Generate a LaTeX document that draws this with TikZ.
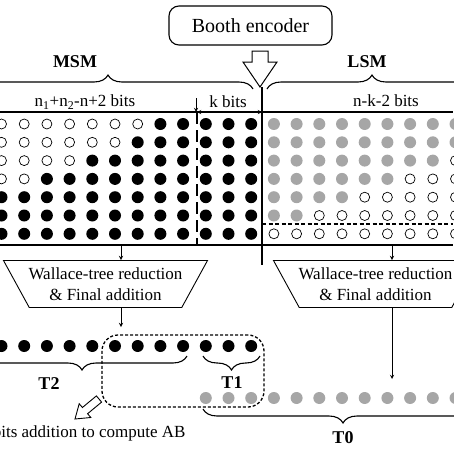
\documentclass[tikz,border=0pt]{standalone}
\usepackage{fontspec}
\setmainfont{Liberation Serif}
\usetikzlibrary{arrows,shapes,positioning,decorations.pathreplacing}
\definecolor{lsmgray}{RGB}{166,166,166}
\tikzstyle{arrow} = [line width=0.9pt,->,>=stealth]
\tikzstyle{gridline} = [line width=1.5pt]
\tikzstyle{brace} = [decorate, decoration={brace, amplitude=14pt}, line width=1.1pt]
\tikzstyle{lbl} = [font=\fontsize{17}{20}\selectfont]
\tikzstyle{wallace} = [draw, line width=0.9pt, trapezium, shape border rotate=180,
  trapezium angle=57, trapezium stretches body, minimum width=204pt,
  minimum height=47pt, inner xsep=-8pt, align=center, font=\fontsize{17}{21}\selectfont]

\begin{document}
\begin{tikzpicture}[x=1pt, y=-1pt]
\useasboundingbox (0,0) rectangle (453,453);

% Booth encoder
\node[draw, line width=1.1pt, rounded corners=10pt, minimum width=163pt, minimum height=39pt,
  font=\fontsize{20}{24}\selectfont] (booth) at (250.5,25.5) {Booth encoder};
\draw[line width=1pt] (252,51) -- (268,51) -- (268,62) -- (277,62) -- (260,87)
  -- (243,62) -- (252,62) -- cycle;

% Braces on top
\draw[brace] (-37,89) -- (253,89);
\draw[brace] (267,89) -- (477,89);
\node[font=\bfseries\fontsize{18}{22}\selectfont] (msm) at (75,62) {MSM};
\node[font=\bfseries\fontsize{18}{22}\selectfont] (lsm) at (367,62) {LSM};

% Widths
\node[lbl] (wmsm) at (85,102) {n\textsubscript{1}+n\textsubscript{2}-n+2 bits};
\node[lbl] (wk) at (228,102) {k bits};
\node[lbl] (wlsm) at (386,101) {n-k-2 bits};
\draw[arrow] (196,98) -- (196,112);
\draw[line width=0.9pt,<->,>=stealth] (197,112) -- (262,112);

% Grid lines
\draw[gridline] (0,112) -- (453,112);
\draw[gridline] (0,245) -- (453,245);
\draw[line width=1.8pt] (262,87) -- (262,265);
\draw[line width=1.8pt, dash pattern=on 12pt off 6pt] (197,112) -- (197,245);
\draw[line width=1.5pt, dash pattern=on 4pt off 2.5pt] (262,224) -- (453,224);

% Partial products
\foreach \r/\o/\g in {0/7/9,1/6/9,2/4/8,3/2/6,4/0/4,5/0/2,6/0/0} {
  \foreach \c in {0,...,20} {
    \pgfmathsetmacro\xx{1.5+22.7*\c}
    \pgfmathsetmacro\yy{124+18.3*\r}
    \ifnum\c<\o
      \draw[line width=0.7pt] (\xx,\yy) circle (5pt);
    \else\ifnum\c<12
      \fill (\xx,\yy) circle (6pt);
    \else\ifnum\c<\numexpr12+\g\relax
      \fill[lsmgray] (\xx,\yy) circle (6pt);
    \else
      \draw[line width=0.7pt] (\xx,\yy) circle (5pt);
    \fi\fi\fi
  }
}

% Wallace trees
\node[wallace] (wtL) at (105.5,284) {Wallace-tree reduction\\\& Final addition};
\node[wallace] (wtR) at (375.5,284) {Wallace-tree reduction\\\& Final addition};
\coordinate (inL) at (121,245);
\coordinate (inR) at (392,245);
\coordinate (outL) at (121,327);
\coordinate (outR) at (392,379);
\draw[arrow] (inL) -- (inL |- wtL.north);
\draw[arrow] (inR) -- (inR |- wtR.north);
\draw[arrow] (outL |- wtL.south) -- (outL);
\draw[arrow] (outR |- wtR.south) -- (outR);

% Results
\foreach \c in {0,...,11}
  \fill (1.5+22.7*\c,346) circle (6pt);
\foreach \c in {9,...,20}
  \fill[lsmgray] (1.5+22.7*\c,398) circle (6pt);

\draw[brace] (187,356) -- (-23,356);
\draw[brace] (260,356) -- (203,356);
\draw[brace] (483,409) -- (203,409);
\node[font=\bfseries\fontsize{18}{22}\selectfont] (t2) at (49,384) {T2};
\node[font=\bfseries\fontsize{18}{22}\selectfont] (t1) at (232,383) {T1};
\node[font=\bfseries\fontsize{18}{22}\selectfont] (t0) at (343,438) {T0};

% Final addition
\node[draw, dash pattern=on 3pt off 2pt, line width=1.3pt, rounded corners=16pt,
  minimum width=162pt, minimum height=72pt] (addbox) at (183,371) {};
\draw[line width=0.9pt] (96.4,395.9) -- (101.6,402.1) -- (87.6,413.7) -- (90.8,417.5)
  -- (75,419) -- (79.2,403.7) -- (82.4,407.5) -- cycle;
\node[lbl, anchor=east] (note) at (189,433) {bits addition to compute AB};
\end{tikzpicture}
\end{document}
